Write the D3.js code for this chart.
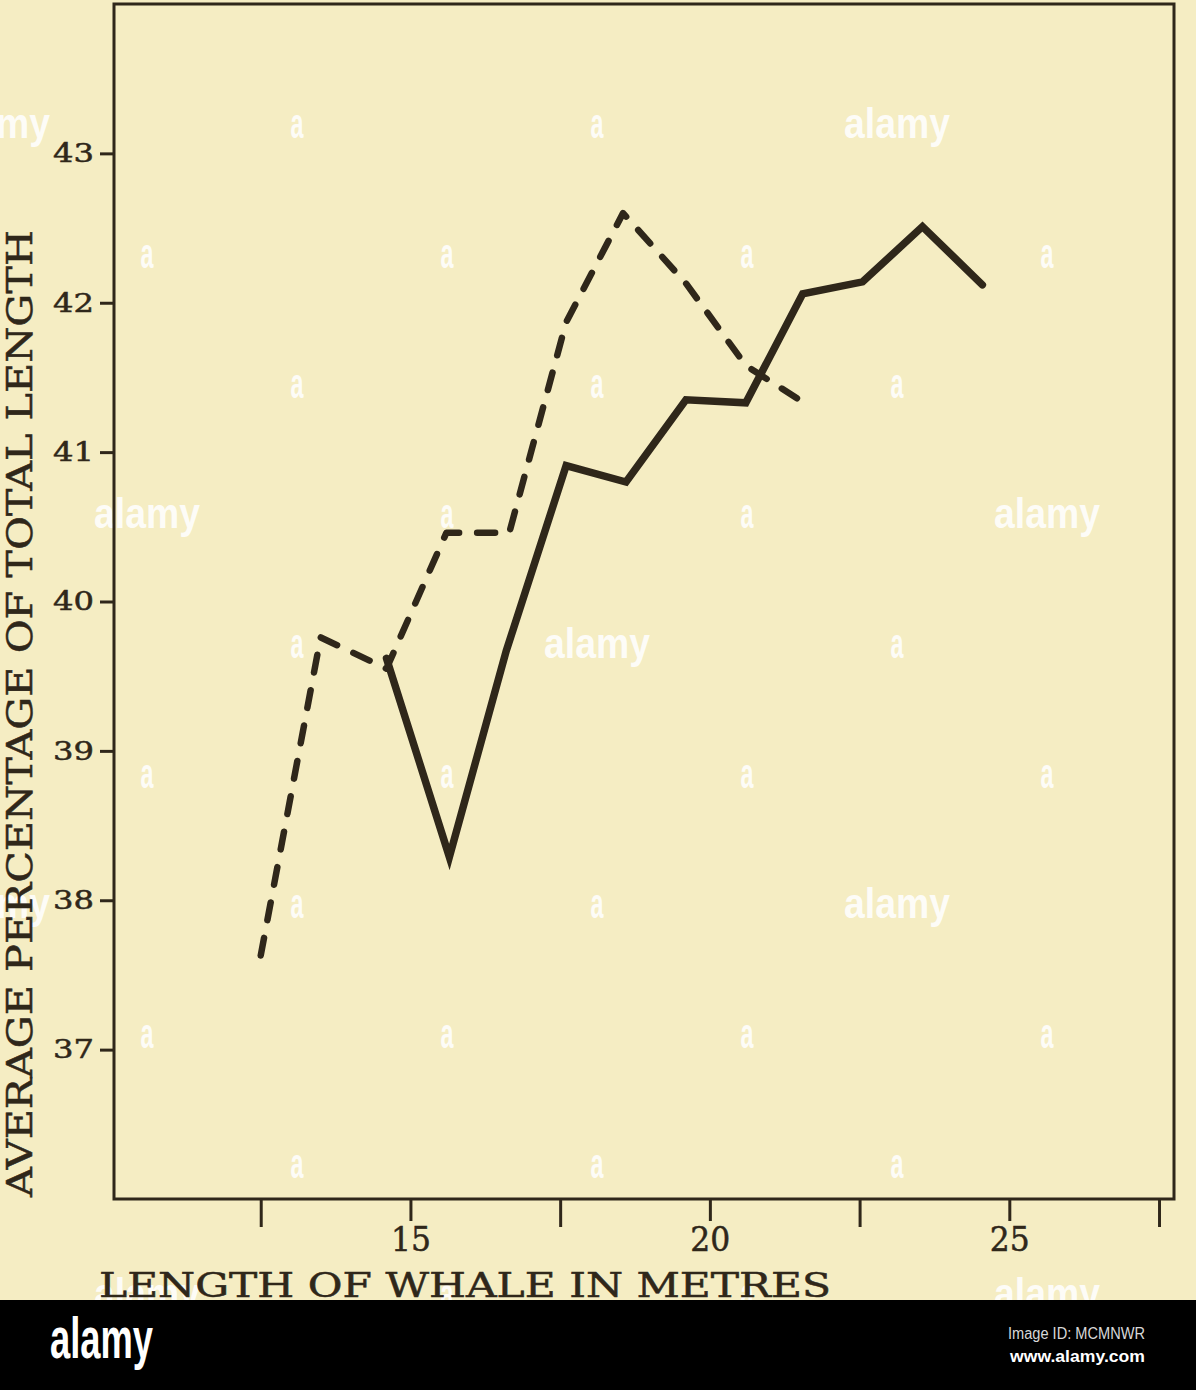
<!DOCTYPE html>
<html>
<head>
<meta charset="utf-8">
<script src="https://cdn.jsdelivr.net/npm/d3@7"></script>
<style>
  body { margin: 0; background: #f5edc3; }
  svg { display: block; }
</style>
</head>
<body>
<svg id="chart" width="1196" height="1390"></svg>
<script>
// length classes (metres) and average percentage
var dashedLength = [12.5, 13.5, 14.6, 15.6, 16.65, 17.6, 18.55, 19.6, 20.6, 21.65]
var dashedPct = [37.63, 39.76, 39.55, 40.46, 40.46, 41.87, 42.6, 42.13, 41.58, 41.31]
var solidLength = [14.6, 15.65, 16.6, 17.6, 18.6, 19.6, 20.6, 21.55, 22.55, 23.55, 24.55]
var solidPct = [39.62, 38.29, 39.67, 40.91, 40.8, 41.35, 41.33, 42.06, 42.14, 42.51, 42.12]

var yTicks = [37, 38, 39, 40, 41, 42, 43]
var xTicks = [12.5, 15, 17.5, 20, 22.5, 25, 27.5]
var xLabelled = [15, 20, 25]

var ink = '#2f271a'
var paper = '#f5edc3'
var serif = "'DejaVu Serif', serif"
var narrow = "'Liberation Sans Narrow', 'Liberation Sans', Roboto, sans-serif"

var svg = d3.select('#chart')

svg.append('rect')
  .attr('width', 1196).attr('height', 1390)
  .attr('fill', paper)

var x = d3.scaleLinear().domain([10, 27.75]).range([111, 1174])
var y = d3.scaleLinear().domain([36, 44]).range([1199, 4])

var left = 114

// watermark lattice (drawn under the chart lines, like the stock overlay)
var wm = svg.append('g').attr('fill', '#ffffff').attr('opacity', 0.88)
  .attr('font-family', narrow)
  .attr('font-weight', 'bold')
  .attr('font-size', 42)
var words = { '0:-3': 1, '0:897': 1, '3:147': 1, '3:1047': 1, '4:597': 1, '6:-3': 1, '6:897': 1, '9:147': 1, '9:1047': 1 }
for (var k = 0; k < 10; k++) {
  var cy = 127 + k * 130
  var cols = (k % 2 === 0) ? [-3, 297, 597, 897] : [147, 447, 747, 1047]
  cols.forEach(function (cx) {
    var isWord = words[k + ':' + cx]
    if (!isWord && cx < 0) return
    wm.append('text')
      .attr('x', cx)
      .attr('y', cy + 11)
      .attr('text-anchor', 'middle')
      .attr('textLength', isWord ? 106 : 13)
      .attr('lengthAdjust', 'spacingAndGlyphs')
      .text(isWord ? 'alamy' : 'a')
  })
}

// frame
svg.append('rect')
  .attr('x', left).attr('y', y(44))
  .attr('width', x(27.75) - left)
  .attr('height', y(36) - y(44))
  .attr('fill', 'none')
  .attr('stroke', ink)
  .attr('stroke-width', 3)

// y axis
var yAxis = svg.append('g')
  .attr('transform', 'translate(' + left + ',0)')
  .call(d3.axisLeft(y).tickValues(yTicks).tickSize(14).tickPadding(6).tickFormat(d3.format('d')))
yAxis.select('.domain').remove()
yAxis.selectAll('line').attr('stroke', ink).attr('stroke-width', 3)
yAxis.selectAll('text')
  .attr('fill', ink)
  .attr('stroke', ink)
  .attr('stroke-width', 0.5)
  .attr('font-family', serif)
  .attr('font-size', 26)
  .attr('textLength', 41)
  .attr('lengthAdjust', 'spacingAndGlyphs')

// x axis
var xAxis = svg.append('g')
  .attr('transform', 'translate(0,' + y(36) + ')')
  .call(d3.axisBottom(x).tickValues(xTicks).tickSize(28)
    .tickFormat(function (d) { return xLabelled.indexOf(d) >= 0 ? d : '' }))
xAxis.select('.domain').remove()
xAxis.selectAll('line').attr('stroke', ink).attr('stroke-width', 3)
  .attr('y2', function (d) { return xLabelled.indexOf(d) >= 0 ? 22 : 28 })
xAxis.selectAll('text')
  .attr('fill', ink)
  .attr('stroke', ink)
  .attr('stroke-width', 0.5)
  .attr('y', 29)
  .attr('font-family', serif)
  .attr('font-size', 33)
  .attr('textLength', function (d) { return xLabelled.indexOf(d) >= 0 ? 40 : null })
  .attr('lengthAdjust', 'spacingAndGlyphs')

// axis titles
svg.append('text')
  .attr('x', 99).attr('y', 1297)
  .attr('fill', ink)
  .attr('stroke', ink)
  .attr('stroke-width', 0.5)
  .attr('font-family', serif)
  .attr('font-size', 33)
  .attr('textLength', 732)
  .attr('lengthAdjust', 'spacingAndGlyphs')
  .text('LENGTH OF WHALE IN METRES')

svg.append('text')
  .attr('transform', 'translate(32,1197) rotate(-90)')
  .attr('fill', ink)
  .attr('stroke', ink)
  .attr('stroke-width', 0.5)
  .attr('font-family', serif)
  .attr('font-size', 36)
  .attr('textLength', 967)
  .attr('lengthAdjust', 'spacingAndGlyphs')
  .text('AVERAGE PERCENTAGE OF TOTAL LENGTH')

// the two curves
var line = d3.line()
  .x(function (d) { return x(d[0]) })
  .y(function (d) { return y(d[1]) })

var dashed = d3.zip(dashedLength, dashedPct)
var solid = d3.zip(solidLength, solidPct)

svg.append('path')
  .datum(dashed)
  .attr('d', line)
  .attr('fill', 'none')
  .attr('stroke', ink)
  .attr('stroke-width', 6.5)
  .attr('stroke-linecap', 'round')
  .attr('stroke-linejoin', 'round')
  .attr('stroke-dasharray', '18,18')

svg.append('path')
  .datum(solid)
  .attr('d', line)
  .attr('fill', 'none')
  .attr('stroke', ink)
  .attr('stroke-width', 7.5)
  .attr('stroke-linecap', 'round')
  .attr('stroke-linejoin', 'miter')

// stock-photo footer band
var band = svg.append('g')
band.append('rect')
  .attr('x', 0).attr('y', 1300)
  .attr('width', 1196).attr('height', 90)
  .attr('fill', '#000')
band.append('text')
  .attr('x', 50).attr('y', 1358)
  .attr('fill', '#fff')
  .attr('font-family', narrow)
  .attr('font-weight', 'bold')
  .attr('font-size', 57)
  .attr('textLength', 103)
  .attr('lengthAdjust', 'spacingAndGlyphs')
  .text('alamy')
band.append('text')
  .attr('x', 1145).attr('y', 1339)
  .attr('text-anchor', 'end')
  .attr('fill', '#d8d8d8')
  .attr('font-family', narrow)
  .attr('font-size', 16)
  .attr('textLength', 137)
  .attr('lengthAdjust', 'spacingAndGlyphs')
  .text('Image ID: MCMNWR')
band.append('text')
  .attr('x', 1145).attr('y', 1362)
  .attr('text-anchor', 'end')
  .attr('fill', '#fff')
  .attr('font-family', narrow)
  .attr('font-weight', 'bold')
  .attr('font-size', 17)
  .attr('textLength', 135)
  .attr('lengthAdjust', 'spacingAndGlyphs')
  .text('www.alamy.com')
</script>
</body>
</html>
